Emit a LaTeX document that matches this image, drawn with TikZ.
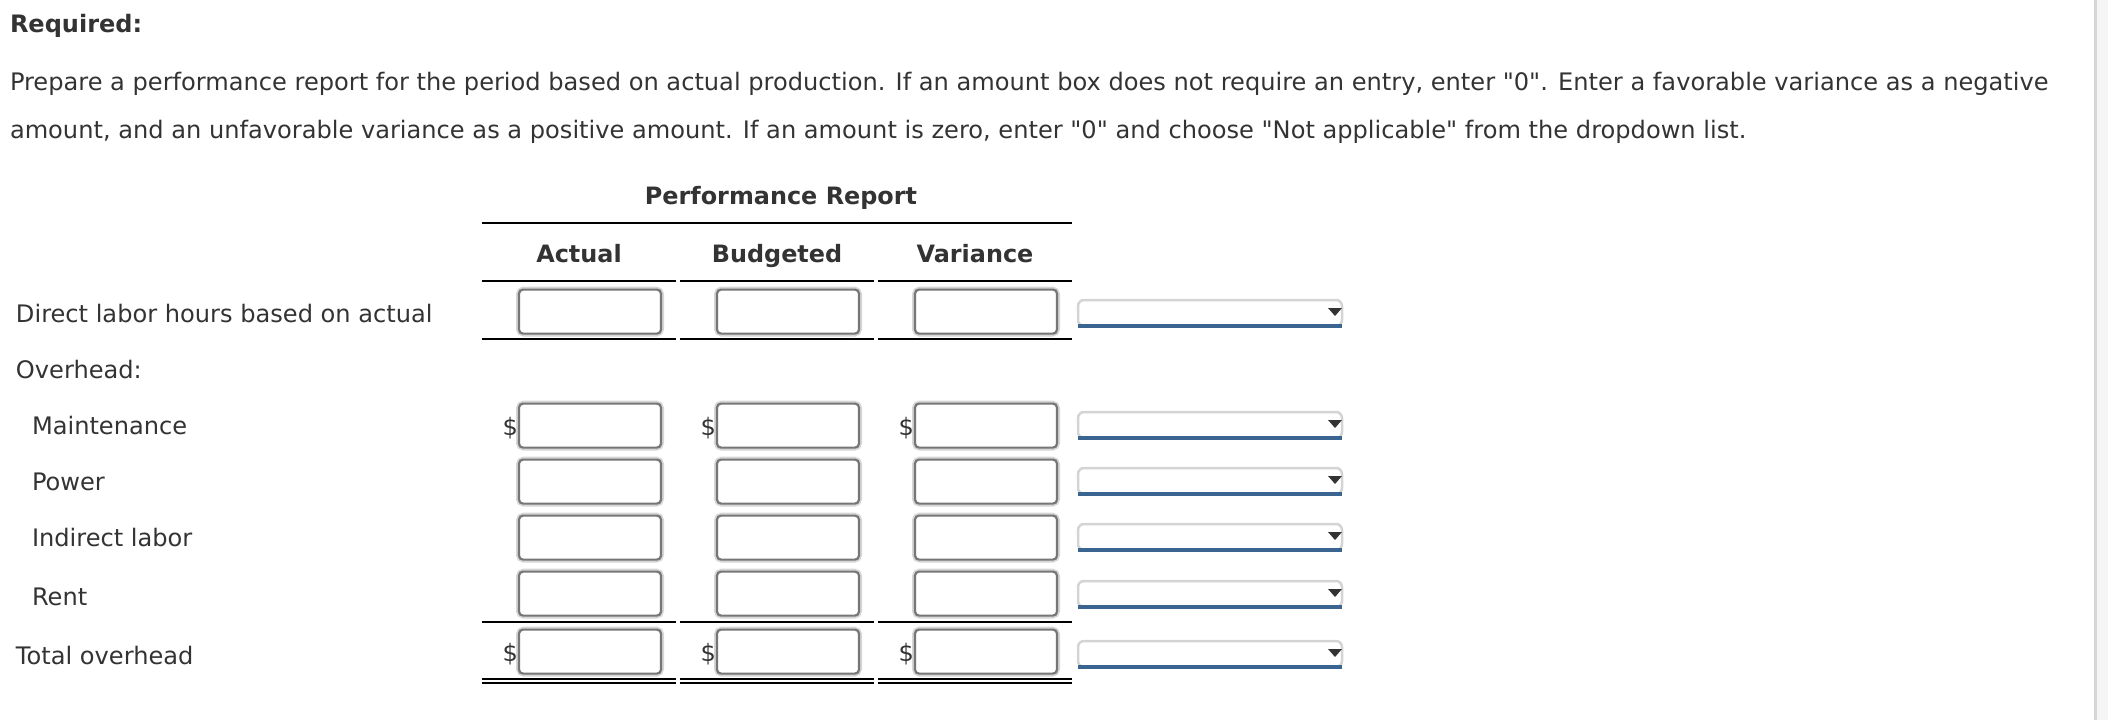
\documentclass[tikz,border=0pt]{standalone}
\usepackage{fontspec}
\setmainfont{DejaVu Sans}[Ligatures=TeXOff]
\definecolor{ink}{HTML}{333333}
\definecolor{boxedge}{HTML}{767676}
\definecolor{ddblue}{HTML}{3A6591}
\tikzset{
  txt/.style={anchor=base west,inner sep=0pt,outer sep=0pt,text=ink,font=\fontsize{24.1}{24}\selectfont},
  hdr/.style={anchor=base,inner sep=0pt,outer sep=0pt,text=ink,font=\bfseries\fontsize{23.9}{24}\selectfont},
  dollar/.style={anchor=base east,inner sep=0pt,outer sep=0pt,text=ink,font=\fontsize{24}{24}\selectfont},
  rulel/.style={draw=black,line width=2pt},
  amount/.style={draw=boxedge,line width=2.2pt,rounded corners=4pt,fill=white,minimum width=142pt,minimum height=44pt,inner sep=0pt,outer sep=0pt},
  halo/.style={draw=black!16,line width=5pt,rounded corners=5pt,minimum width=143pt,minimum height=45pt,inner sep=0pt,outer sep=0pt},
  ddbox/.style={draw=black!17,line width=2.5pt,rounded corners=6pt,fill=white,inner sep=0pt,outer sep=0pt,minimum width=264pt,minimum height=26pt},
  ddbar/.style={fill=ddblue,inner sep=0pt,outer sep=0pt,minimum width=264pt,minimum height=4pt},
  ddtip/.style={fill=ink}
}
\begin{document}
\begin{tikzpicture}[x=1pt,y=-1pt]
\useasboundingbox (0,0) rectangle (2108,720);
\fill[black!4] (2094,0) rectangle (2108,720);
\fill[black!16] (2094,0) rectangle (2097,720);
\node[txt,font=\bfseries\fontsize{24}{24}\selectfont] (req) at (10,32) {Required:};
\node[txt] (l1) at (10,90) {Prepare a performance report for the period based on actual production. If an amount box does not require an entry, enter "0". Enter a favorable variance as a negative};
\node[txt] (l2) at (10,138) {amount, and an unfavorable variance as a positive amount. If an amount is zero, enter "0" and choose "Not applicable" from the dropdown list.};
\node[hdr] (title) at (781,204) {Performance Report};
\node[hdr] (hA) at (579,262) {Actual};
\node[hdr] (hB) at (777,262) {Budgeted};
\node[hdr] (hV) at (975,262) {Variance};
\draw[rulel] (482,223) -- (1072,223);
\foreach \xa in {482,680,878}{
  \draw[rulel] (\xa,281) -- ++(194,0);
  \draw[rulel] (\xa,339) -- ++(194,0);
  \draw[rulel] (\xa,621.5) -- ++(194,0);
  \draw[rulel] (\xa,679) -- ++(194,0);
  \draw[rulel] (\xa,683) -- ++(194,0);
}
\node[txt] (r1) at (16,322) {Direct labor hours based on actual};
\node[txt] (r2) at (16,378) {Overhead:};
\node[txt] (r3) at (32,434) {Maintenance};
\node[txt] (r4) at (32,490) {Power};
\node[txt] (r5) at (32,546) {Indirect labor};
\node[txt] (r6) at (32,605) {Rent};
\node[txt] (r7) at (16,664) {Total overhead};
% amount boxes
\foreach \cx/\cn in {590/a,788/b,986/c}{
  \foreach \cy/\rn in {311/1,425/2,481/3,537/4,593/5,651/6}{
    \node[halo] at (\cx,\cy+0.6) {};
    \node[amount] (box\cn\rn) at (\cx,\cy+0.6) {};
  }
  \node[dollar] (d\cn2) at ([xshift=-1pt]box\cn2.west |- 0,435) {\$};
  \node[dollar] (d\cn6) at ([xshift=-1pt]box\cn6.west |- 0,661) {\$};
}
% dropdowns
\foreach \ty/\dn in {300/1,412/2,468/3,524/4,581/5,641/6}{
  \node[ddbox] (dd\dn) at (1210,\ty+13) {};
  \node[ddbar] (bar\dn) at (1210,\ty+26) {};
  \fill[ddtip] (1328,\ty+8) -- (1342,\ty+8) -- (1335,\ty+16) -- cycle;
}
\end{tikzpicture}
\end{document}
